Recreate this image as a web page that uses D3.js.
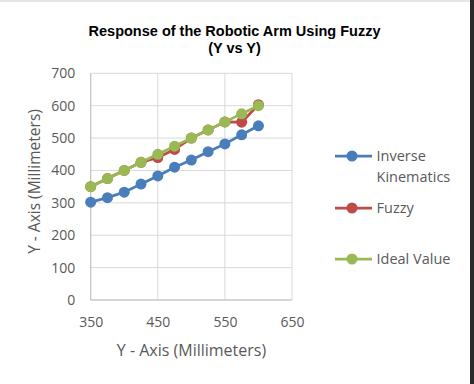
<!DOCTYPE html>
<html><head><meta charset="utf-8">
<script src="https://cdn.jsdelivr.net/npm/d3@7"></script>
<style>body{margin:0;background:#fff;}svg{display:block;}</style>
</head><body>
<script>
const xValues = [350, 375, 400, 425, 450, 475, 500, 525, 550, 575, 600];
const inverseKinematics = [302, 316, 333, 358, 383, 410, 432, 458, 482, 510, 538];
const fuzzy = [350, 375, 400, 425, 440, 465, 500, 525, 550, 549, 603];
const idealValue = [350, 375, 400, 425, 450, 475, 500, 525, 550, 575, 600];
const xTicks = [350, 450, 550, 650];
const yTicks = [0, 100, 200, 300, 400, 500, 600, 700];
const seriesNames = ["Inverse Kinematics", "Fuzzy", "Ideal Value"];
const seriesColors = ["#4a7ebb", "#be4b48", "#98b954"];

const W = 474, H = 384;
const svg = d3.select("body").append("svg").attr("width", W).attr("height", H);
svg.append("rect").attr("width", W).attr("height", H).attr("fill", "#fff");
svg.append("rect").attr("x", 0).attr("y", 0).attr("width", 470).attr("height", 2).attr("fill", "#e6e6e6");
svg.append("rect").attr("x", 470).attr("y", 0).attr("width", 4).attr("height", H).attr("fill", "#2a2a2a");

const x = d3.scaleLinear().domain([350, 650]).range([90.7, 292]);
const y = d3.scaleLinear().domain([0, 700]).range([300, 73.3]);

const font = "'Open Sans', Lato, sans-serif";
const tickColor = "#595959";

// gridlines
const g = svg.append("g");
g.selectAll(".hg").data(yTicks).join("line")
  .attr("x1", x(350)).attr("x2", x(650)).attr("y1", d => y(d)).attr("y2", d => y(d))
  .attr("stroke", "#d9d9d9").attr("stroke-width", 1);
g.selectAll(".vg").data(xTicks).join("line")
  .attr("x1", d => x(d)).attr("x2", d => x(d)).attr("y1", y(0)).attr("y2", y(700))
  .attr("stroke", "#d9d9d9").attr("stroke-width", 1);
g.append("line").attr("x1", x(350)).attr("x2", x(650)).attr("y1", y(0)).attr("y2", y(0)).attr("stroke", "#bfbfbf");
g.append("line").attr("x1", x(350)).attr("x2", x(350)).attr("y1", y(0)).attr("y2", y(700)).attr("stroke", "#bfbfbf");

// axes with d3
const xAxis = svg.append("g").attr("transform", `translate(0,${y(0)})`)
  .call(d3.axisBottom(x).tickValues(xTicks).tickSize(0).tickPadding(17));
const yAxis = svg.append("g").attr("transform", `translate(${x(350)},0)`)
  .call(d3.axisLeft(y).tickValues(yTicks).tickSize(0).tickPadding(15.5));
[xAxis, yAxis].forEach(a => {
  a.select(".domain").remove();
  a.selectAll("text").attr("fill", tickColor).style("font-family", font).style("font-size", "14px");
});

// series
const allSeries = [inverseKinematics, fuzzy, idealValue];
const line = d3.line().x((d, i) => x(xValues[i])).y(d => y(d));
allSeries.forEach((vals, si) => {
  const sg = svg.append("g");
  sg.append("path").datum(vals).attr("d", line).attr("fill", "none")
    .attr("stroke", seriesColors[si]).attr("stroke-width", 2.75).attr("stroke-linejoin", "round");
  sg.selectAll("circle").data(vals).join("circle")
    .attr("cx", (d, i) => x(xValues[i])).attr("cy", d => y(d)).attr("r", 5.5)
    .attr("fill", seriesColors[si]);
});

// title
const title = svg.append("text").attr("x", 234.5).attr("text-anchor", "middle")
  .style("font-family", "'Liberation Sans', Arial, sans-serif").style("font-weight", "bold")
  .style("font-size", "14.5px").attr("fill", "#000");
title.append("tspan").attr("x", 234.5).attr("y", 36).text("Response of the Robotic Arm Using Fuzzy");
title.append("tspan").attr("x", 234.5).attr("y", 53).text("(Y vs Y)");

// axis titles
svg.append("text").attr("x", 191.5).attr("y", 355.5).attr("text-anchor", "middle")
  .style("font-family", font).style("font-size", "16px").attr("fill", tickColor)
  .text("Y - Axis (Millimeters)");
svg.append("text").attr("transform", "translate(39.5,181.5) rotate(-90)").attr("text-anchor", "middle")
  .style("font-family", font).style("font-size", "15.5px").attr("fill", tickColor)
  .text("Y - Axis (Millimeters)");

// legend
const legendRows = [
  { lines: ["Inverse", "Kinematics"], y: 156 },
  { lines: ["Fuzzy"], y: 208 },
  { lines: ["Ideal Value"], y: 259 }
];
legendRows.forEach((r, i) => {
  const lg = svg.append("g");
  lg.append("line").attr("x1", 335).attr("x2", 372).attr("y1", r.y).attr("y2", r.y)
    .attr("stroke", seriesColors[i]).attr("stroke-width", 2.75);
  lg.append("circle").attr("cx", 352).attr("cy", r.y).attr("r", 5.5).attr("fill", seriesColors[i]);
  const t = lg.append("text").style("font-family", font).style("font-size", "14.5px").attr("fill", tickColor);
  r.lines.forEach((s, k) => {
    t.append("tspan").attr("x", 376.5).attr("y", r.y + 5 + k * 20.5).text(s);
  });
});
</script>
</body></html>
